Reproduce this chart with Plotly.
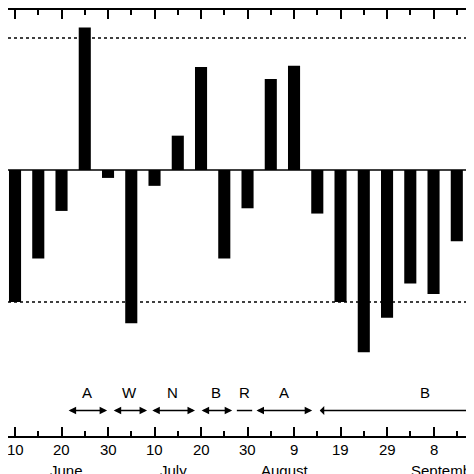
import plotly.graph_objects as go

days = [9,14,19,24,29,34,39,44,49,54,59,64,69,74,79,84,89,94,99,104]
values = [-1.0,-0.67,-0.31,1.08,-0.06,-1.16,-0.12,0.26,0.78,-0.67,-0.29,0.69,0.79,-0.33,-1.0,-1.38,-1.12,-0.86,-0.94,-0.54]
tick_pos = [9,19,29,39,49,59,69,79,89,99,109]
tick_text = ["10","20","30","10","20","30","9","19","29","8","18"]
months = [("June",20),("July",43),("August",67),("September",102)]
periods = [("A",20.2,28.8,"both"),("W",29.9,37.4,"both"),("N",38.2,47.7,"both"),
           ("B",48.8,55.7,"both"),("R",56.7,60.0,"none"),("A",60.6,72.9,"both"),("B",74.2,112,"start")]

fig = go.Figure(go.Bar(x=days, y=values, width=2.6, marker=dict(color="black", line_width=0)))
fig.add_hline(y=0, line=dict(color="black", width=1.5))
for yv in (1, -1):
    fig.add_hline(y=yv, line=dict(color="black", width=1.5, dash="dot"))

ann = []
for t, x in zip(tick_text, tick_pos):
    ann.append(dict(x=x, y=-2.015, yref="y", text=t, showarrow=False, yanchor="top", yshift=-3,
                    font=dict(size=15)))
for m, x in months:
    ann.append(dict(x=x, y=-2.015, text=m, showarrow=False, yanchor="top", yshift=-24, font=dict(size=15)))
ya, yl = -1.822, -1.683
for lab, a, b, side in periods:
    ann.append(dict(x=(a+b)/2 if b < 100 else 97.2, y=yl, text=lab, showarrow=False, font=dict(size=15)))
    if side == "none":
        fig.add_shape(type="line", x0=a, x1=b, y0=ya, y1=ya, line=dict(color="black", width=1.5))
    else:
        ann.append(dict(x=b, y=ya, ax=a, ay=ya, axref="x", ayref="y", text="", showarrow=True,
                        arrowhead=2, arrowsize=1, arrowwidth=1.5, arrowcolor="black",
                        arrowside="end+start" if side == "both" else "start"))
fig.update_layout(
    width=466, height=466, margin=dict(l=0, r=0, t=2, b=38),
    plot_bgcolor="white", paper_bgcolor="white", showlegend=False,
    font=dict(family="Arial, Liberation Sans", color="black"),
    annotations=ann,
    xaxis=dict(range=[7.49, 107.7], tickvals=tick_pos, showticklabels=False, ticks="inside",
               ticklen=9, tickwidth=1.5, tickcolor="black", showline=True, linecolor="black",
               linewidth=1.5, mirror="ticks", showgrid=False, zeroline=False,
               minor=dict(tickvals=[p+5 for p in tick_pos], ticks="inside", ticklen=5, tickwidth=1.5, tickcolor="black")),
    yaxis=dict(range=[-2.015, 1.212], visible=False),
)
fig.write_html("out.html")
